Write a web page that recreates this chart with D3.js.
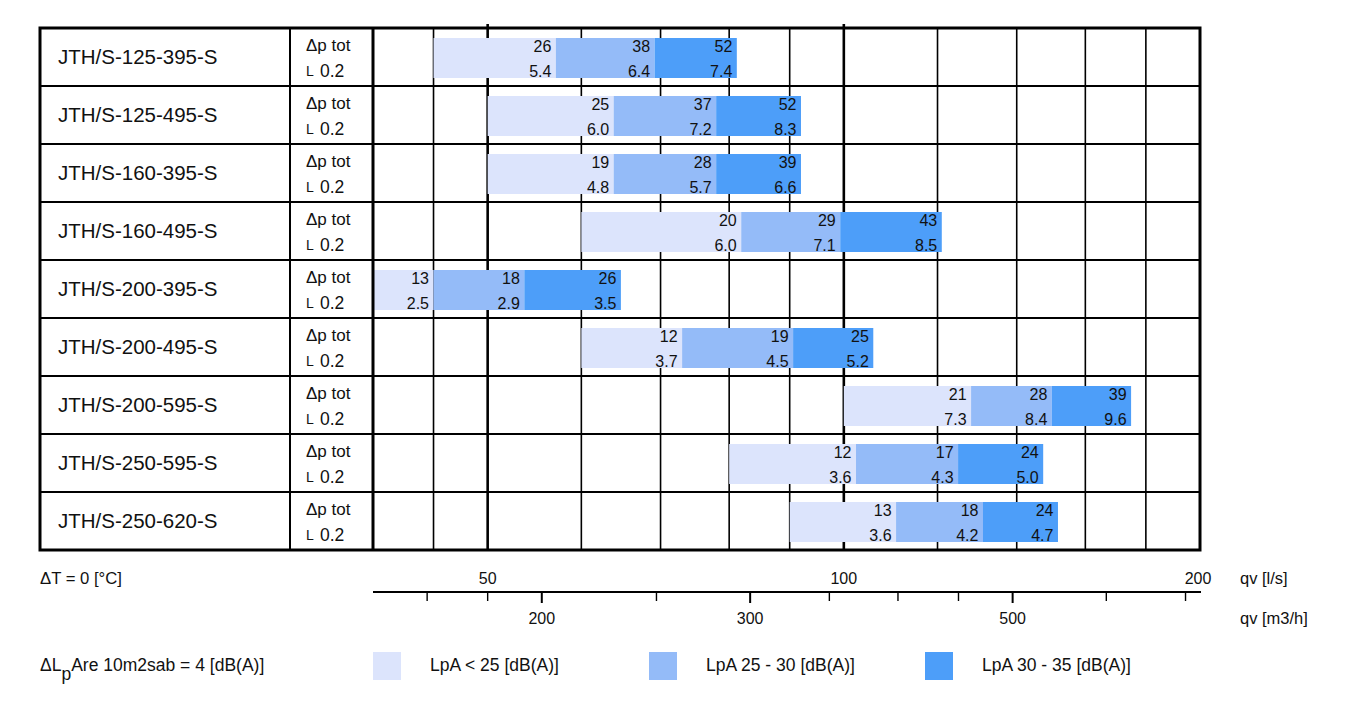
<!DOCTYPE html>
<html>
<head>
<meta charset="utf-8">
<script src="https://cdn.jsdelivr.net/npm/d3@7"></script>
<style>
  body { margin: 0; background: #fff; }
  text { font-family: "Liberation Sans", Arial, sans-serif; fill: #111; }
</style>
</head>
<body>
<svg id="chart" width="1366" height="712"></svg>
<script>
(function(){
    // row names
    var units = ["JTH/S-125-395-S", "JTH/S-125-495-S", "JTH/S-160-395-S", "JTH/S-160-495-S",
                 "JTH/S-200-395-S", "JTH/S-200-495-S", "JTH/S-200-595-S", "JTH/S-250-595-S",
                 "JTH/S-250-620-S"];
    // flow where each bar starts [l/s]
    var flowStart = [45, 50, 50, 60, 40, 60, 100, 80, 90];
    // flow at the end of each band: LpA<25, 25-30, 30-35 [l/s]
    var flowEnd = [
        [57.1, 69.2, 81.2],
        [63.9, 78.0, 92.0],
        [63.9, 78.0, 92.0],
        [81.9, 99.3, 121.0],
        [45.0, 53.7, 64.8],
        [73.0, 90.6, 105.9],
        [128.1, 149.9, 174.9],
        [102.4, 124.9, 147.4],
        [110.7, 131.1, 151.7]
    ];
    var dpTot = [
        [26, 38, 52], [25, 37, 52], [19, 28, 39], [20, 29, 43], [13, 18, 26],
        [12, 19, 25], [21, 28, 39], [12, 17, 24], [13, 18, 24]
    ];
    var l02 = [
        ["5.4", "6.4", "7.4"], ["6.0", "7.2", "8.3"], ["4.8", "5.7", "6.6"], ["6.0", "7.1", "8.5"],
        ["2.5", "2.9", "3.5"], ["3.7", "4.5", "5.2"], ["7.3", "8.4", "9.6"], ["3.6", "4.3", "5.0"],
        ["3.6", "4.2", "4.7"]
    ];
    var bandNames = ["LpA < 25 [dB(A)]", "LpA 25 - 30 [dB(A)]", "LpA 30 - 35 [dB(A)]"];
    var bandColors = ["#dce4fc", "#94bbf8", "#4d9ef9"];

    var gridLs = [45, 50, 60, 70, 80, 90, 100, 120, 140, 160, 180];
    var majorLs = [50, 100, 200];
    var ticksM3h = [160, 180, 200, 250, 300, 350, 400, 450, 500, 600, 700];
    var majorM3h = [200, 300, 500];

    var left = 40, colLabel = 290, plotLeft = 373, plotRight = 1200,
        top = 28, bottom = 550;

    var svg = d3.select("#chart");

    var x = d3.scaleLog().domain([40, 200]).range([plotLeft, plotRight]);
    var y = d3.scaleBand().domain(d3.range(units.length)).range([top, bottom]);
    var rowH = y.bandwidth();

    // grid verticals
    svg.append("g").selectAll("line")
        .data(gridLs)
        .enter()
        .append("line")
        .attr("x1", function(d){ return x(d); })
        .attr("x2", function(d){ return x(d); })
        .attr("y1", function(d){ return majorLs.indexOf(d) >= 0 ? top - 4 : top; })
        .attr("y2", bottom)
        .attr("stroke", "#000")
        .attr("stroke-width", function(d){ return majorLs.indexOf(d) >= 0 ? 2.6 : 1.6; });

    // row lines
    svg.append("g").selectAll("line")
        .data(d3.range(1, units.length))
        .enter()
        .append("line")
        .attr("x1", left).attr("x2", plotRight)
        .attr("y1", function(d){ return y(d); })
        .attr("y2", function(d){ return y(d); })
        .attr("stroke", "#000")
        .attr("stroke-width", 2);

    // bars
    var rows = svg.append("g").selectAll("g")
        .data(units)
        .enter()
        .append("g")
        .attr("transform", function(d, i){ return "translate(0," + y(i) + ")"; });

    rows.each(function(d, i){
        var g = d3.select(this);
        var segs = flowEnd[i].map(function(e, k){
            return { from: k === 0 ? flowStart[i] : flowEnd[i][k - 1], to: e, k: k };
        });
        g.selectAll("rect")
            .data(segs)
            .enter()
            .append("rect")
            .attr("x", function(s){ return x(s.from); })
            .attr("width", function(s){ return x(s.to) - x(s.from); })
            .attr("y", 10)
            .attr("height", 40)
            .attr("fill", function(s){ return bandColors[s.k]; });

        g.selectAll("text.dp")
            .data(segs)
            .enter()
            .append("text")
            .attr("class", "dp")
            .attr("x", function(s){ return x(s.to) - 4.5; })
            .attr("y", 24)
            .attr("text-anchor", "end")
            .style("font-size", "16px")
            .text(function(s){ return dpTot[i][s.k]; });

        g.selectAll("text.l02")
            .data(segs)
            .enter()
            .append("text")
            .attr("class", "l02")
            .attr("x", function(s){ return x(s.to) - 4.5; })
            .attr("y", 49)
            .attr("text-anchor", "end")
            .style("font-size", "16px")
            .text(function(s){ return l02[i][s.k]; });

        g.append("text")
            .attr("x", 58)
            .attr("y", rowH / 2 + 7)
            .style("font-size", "20.5px")
            .text(d);

        g.append("text")
            .attr("x", 306)
            .attr("y", 23)
            .style("font-size", "17px")
            .text("\u0394p tot");

        g.append("text")
            .attr("x", 306)
            .attr("y", 48)
            .style("font-size", "14px")
            .text("L");
        g.append("text")
            .attr("x", 320)
            .attr("y", 49)
            .style("font-size", "17.5px")
            .text("0.2");
    });

    // column lines and border
    svg.append("line").attr("x1", colLabel).attr("x2", colLabel).attr("y1", top).attr("y2", bottom)
        .attr("stroke", "#000").attr("stroke-width", 2);
    svg.append("line").attr("x1", plotLeft).attr("x2", plotLeft).attr("y1", top).attr("y2", bottom)
        .attr("stroke", "#000").attr("stroke-width", 3);
    svg.append("rect")
        .attr("x", left).attr("y", top)
        .attr("width", plotRight - left).attr("height", bottom - top)
        .attr("fill", "none").attr("stroke", "#000").attr("stroke-width", 3);

    // l/s labels
    svg.append("g").selectAll("text")
        .data(majorLs)
        .enter()
        .append("text")
        .attr("x", function(d){ return d === 200 ? x(d) - 2 : x(d); })
        .attr("y", 584)
        .attr("text-anchor", "middle")
        .style("font-size", "16px")
        .text(function(d){ return d; });

    // m3/h axis (1 l/s = 3.6 m3/h)
    var axisY = 592;
    var m3h = d3.scaleLog().domain([40 * 3.6, 200 * 3.6]).range([plotLeft, plotRight]);
    svg.append("line").attr("x1", plotLeft).attr("x2", plotRight + 1)
        .attr("y1", axisY).attr("y2", axisY)
        .attr("stroke", "#000").attr("stroke-width", 2);
    svg.append("g").selectAll("line")
        .data(ticksM3h)
        .enter()
        .append("line")
        .attr("x1", function(d){ return m3h(d); })
        .attr("x2", function(d){ return m3h(d); })
        .attr("y1", axisY)
        .attr("y2", function(d){ return majorM3h.indexOf(d) >= 0 ? axisY + 11 : axisY + 9; })
        .attr("stroke", "#000")
        .attr("stroke-width", function(d){ return majorM3h.indexOf(d) >= 0 ? 2 : 1.4; });
    svg.append("g").selectAll("text")
        .data(majorM3h)
        .enter()
        .append("text")
        .attr("x", function(d){ return m3h(d); })
        .attr("y", 624)
        .attr("text-anchor", "middle")
        .style("font-size", "16px")
        .text(function(d){ return d; });

    svg.append("text").attr("x", 40).attr("y", 584).style("font-size", "16.7px").text("\u0394T = 0 [\u00b0C]");
    svg.append("text").attr("x", 1240).attr("y", 584).style("font-size", "16.5px").text("qv [l/s]");
    svg.append("text").attr("x", 1240).attr("y", 624).style("font-size", "16.5px").text("qv [m3/h]");

    // legend
    var lg = svg.append("text").attr("x", 40).attr("y", 671).style("font-size", "17.5px");
    lg.append("tspan").text("\u0394L");
    lg.append("tspan").attr("dy", 9).text("p");
    lg.append("tspan").attr("dy", -9).text("Are 10m2sab = 4 [dB(A)]");

    var legendX = [373, 649, 925];
    var items = svg.append("g").selectAll("g")
        .data(bandNames)
        .enter()
        .append("g")
        .attr("transform", function(d, i){ return "translate(" + legendX[i] + ",652)"; });
    items.append("rect")
        .attr("width", 28).attr("height", 28)
        .attr("fill", function(d, i){ return bandColors[i]; });
    items.append("text")
        .attr("x", 57).attr("y", 19)
        .style("font-size", "17.5px")
        .text(function(d){ return d; });
})();
</script>
</body>
</html>
